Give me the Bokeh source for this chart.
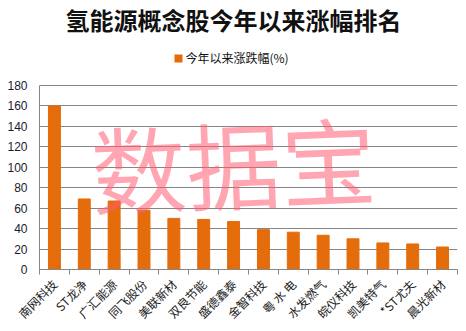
import math
from bokeh.plotting import figure
from bokeh.models import ColumnDataSource, FixedTicker, Label, Range1d, BoxAnnotation
from bokeh.embed import file_html
from bokeh.resources import INLINE

categories = ["南网科技", "ST龙净", "广汇能源", "同飞股份", "美联新材", "双良节能", "盛德鑫泰",
              "金智科技", "粤 水 电", "水发燃气", "皖仪科技", "凯美特气", "*ST尤夫", "晨光新材"]
values = [160, 69, 67, 58, 50, 49, 47, 39, 36.5, 33.5, 30, 26, 25, 22]
y_ticks = [0, 20, 40, 60, 80, 100, 120, 140, 160, 180]
title_text = "氢能源概念股今年以来涨幅排名"
legend_text = "今年以来涨跌幅(%)"
watermark = "数据宝"

BAR = "#E46C0A"
W, H = 466, 331
FL, FB = 39, 269          # frame left / bottom in canvas pixels
Y180 = 85                 # canvas row of the 180 gridline
PX_PER_UNIT = (FB - Y180) / 180.0
Y_TOP = FB / PX_PER_UNIT  # frame extends to the top of the canvas

def sx(cx):
    return cx - FL

def sy(cy):
    return FB - cy

xs = [i + 0.5 for i in range(len(categories))]
src = ColumnDataSource(dict(x=xs, top=values, name=categories))

p = figure(width=W, height=H, output_backend="svg", toolbar_location=None,
           x_range=Range1d(0, len(categories)), y_range=Range1d(0, Y_TOP),
           min_border_left=FL, min_border_right=9, min_border_top=0, min_border_bottom=H - FB)
p.outline_line_color = None
p.background_fill_color = "white"

p.vbar(x="x", top="top", width=0.4, color=BAR, source=src)

# axes
p.yaxis.ticker = FixedTicker(ticks=y_ticks)
p.yaxis.bounds = (0, 180)
p.yaxis.major_tick_line_color = None
p.yaxis.minor_tick_line_color = None
p.yaxis.axis_line_color = "#868686"
p.yaxis.major_label_text_font = "Liberation Sans"
p.yaxis.major_label_text_font_size = "12px"
p.yaxis.major_label_text_color = "#1a1a2e"
p.yaxis.major_label_standoff = 6

p.xaxis.ticker = FixedTicker(ticks=xs, minor_ticks=list(range(len(categories) + 1)))
p.xaxis.major_label_overrides = {x: c for x, c in zip(xs, categories)}
p.xaxis.major_tick_line_color = None
p.xaxis.minor_tick_line_color = "#868686"
p.xaxis.minor_tick_in = 0
p.xaxis.minor_tick_out = 5
p.xaxis.axis_line_color = "#868686"
p.xaxis.major_label_orientation = math.pi / 4
p.xaxis.major_label_text_font = "Noto Sans CJK SC"
p.xaxis.major_label_text_font_size = "12px"
p.xaxis.major_label_text_color = "#222222"
p.xaxis.major_label_standoff = 6

p.xgrid.grid_line_color = None
p.ygrid.grid_line_color = "#868686"
p.ygrid.grid_line_width = 1

# title
p.add_layout(Label(x=sx(W / 2), y=sy(19), x_units="screen", y_units="screen", text=title_text,
                   text_align="center", text_baseline="middle", text_font="Noto Sans CJK SC",
                   text_font_style="bold", text_font_size="24px", text_color="#111111"))
# legend
p.add_layout(BoxAnnotation(left=sx(174), right=sx(182), bottom=sy(62), top=sy(54),
                           left_units="screen", right_units="screen",
                           bottom_units="screen", top_units="screen",
                           fill_color=BAR, fill_alpha=1.0, line_color=None))
p.add_layout(Label(x=sx(185), y=sy(57), x_units="screen", y_units="screen", text=legend_text,
                   text_align="left", text_baseline="middle", text_font="Noto Sans CJK SC",
                   text_font_size="12px", text_color="#111111"))
# watermark
p.add_layout(Label(x=sx(233), y=sy(161), x_units="screen", y_units="screen", text=watermark,
                   text_align="center", text_baseline="middle", text_font="Noto Sans CJK SC",
                   text_font_size="95px", text_color="#ff5c72", text_alpha=0.55, angle=0.04))

open("out.html", "w").write(file_html(p, INLINE))
